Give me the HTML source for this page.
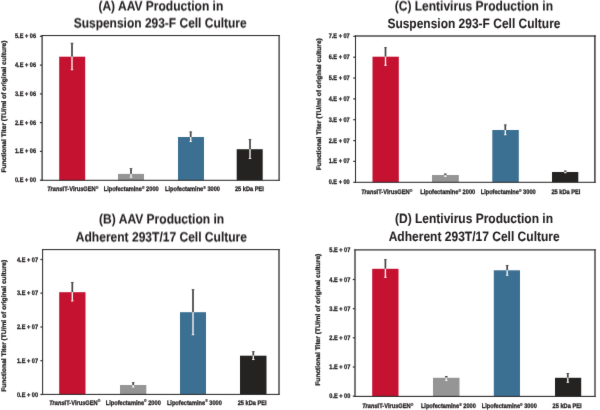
<!DOCTYPE html>
<html><head><meta charset="utf-8"><title>Functional Titer</title>
<style>
html,body{margin:0;padding:0;background:#fff;}
body{width:600px;height:410px;overflow:hidden;font-family:"Liberation Sans",sans-serif;}
svg{display:block;}
text{font-family:"Liberation Sans",sans-serif;font-weight:bold;fill:#231f20;text-rendering:geometricPrecision;}
.t{font-size:13.6px;stroke:#231f20;stroke-width:0.08px;}
.s{font-size:6.6px;stroke:#231f20;stroke-width:0.3px;}
</style></head><body>
<svg width="600" height="410" viewBox="0 0 600 410">
<defs><filter id="soft" x="0" y="0" width="600" height="410" filterUnits="userSpaceOnUse" color-interpolation-filters="sRGB"><feConvolveMatrix order="3" kernelMatrix="0.0049 0.0602 0.0049 0.0602 0.7396 0.0602 0.0049 0.0602 0.0049" edgeMode="duplicate" preserveAlpha="false"/></filter>
<filter id="softUp" x="0" y="0" width="600" height="410" filterUnits="userSpaceOnUse" color-interpolation-filters="sRGB"><feConvolveMatrix order="3" kernelMatrix="0.0343 0.4214 0.0343 0.0329 0.4042 0.0329 0.0028 0.0344 0.0028" edgeMode="duplicate" preserveAlpha="false"/></filter></defs>
<rect width="600" height="410" fill="#fff"/>
<g filter="url(#soft)">

<!-- panel A -->
<rect x="59.2" y="56.7" width="26.0" height="123.6" fill="#C41230"/>
<rect x="71.15" y="43.0" width="1.7" height="13.7" fill="#454545"/>
<rect x="71.30" y="56.7" width="1.4" height="13.3" fill="#f7f0f0"/>
<rect x="70.60" y="42.8" width="2.8" height="0.8" fill="#454545"/>
<rect x="70.70" y="69.3" width="2.6" height="0.9" fill="#f7f0f0"/>
<rect x="118" y="173.9" width="26.0" height="6.4" fill="#959595"/>
<rect x="130.15" y="168.5" width="1.7" height="5.4" fill="#454545"/>
<rect x="130.30" y="173.9" width="1.4" height="3.7" fill="#f7f0f0"/>
<rect x="129.60" y="168.3" width="2.8" height="0.8" fill="#454545"/>
<rect x="129.70" y="176.9" width="2.6" height="0.9" fill="#f7f0f0"/>
<rect x="178" y="137" width="26.0" height="43.3" fill="#3C7092"/>
<rect x="189.85" y="131.7" width="1.7" height="5.3" fill="#454545"/>
<rect x="190.00" y="137" width="1.4" height="4.7" fill="#f7f0f0"/>
<rect x="189.30" y="131.5" width="2.8" height="0.8" fill="#454545"/>
<rect x="189.40" y="141.0" width="2.6" height="0.9" fill="#f7f0f0"/>
<rect x="236.7" y="149.2" width="26.0" height="31.1" fill="#242322"/>
<rect x="249.15" y="139.2" width="1.7" height="10.0" fill="#454545"/>
<rect x="249.30" y="149.2" width="1.4" height="9.5" fill="#f7f0f0"/>
<rect x="248.60" y="139.0" width="2.8" height="0.8" fill="#454545"/>
<rect x="248.70" y="158.0" width="2.6" height="0.9" fill="#f7f0f0"/>
<rect x="41.48" y="35.02" width="238.25" height="1.05" fill="#2e2e2e"/>
<rect x="41.48" y="179.78" width="238.25" height="1.05" fill="#2e2e2e"/>
<rect x="41.48" y="35.02" width="1.25" height="145.80" fill="#2e2e2e"/>
<rect x="278.48" y="35.02" width="1.25" height="145.80" fill="#2e2e2e"/>
<rect x="39.9" y="35.7" width="2" height="1.2" fill="#2e2e2e"/>
<text class="s" x="36.0" y="38.3" text-anchor="end" textLength="21.0" lengthAdjust="spacingAndGlyphs">5.E + 06</text>
<rect x="39.9" y="64.5" width="2" height="1.2" fill="#2e2e2e"/>
<text class="s" x="36.0" y="67.1" text-anchor="end" textLength="21.0" lengthAdjust="spacingAndGlyphs">4.E + 06</text>
<rect x="39.9" y="93.3" width="2" height="1.2" fill="#2e2e2e"/>
<text class="s" x="36.0" y="95.9" text-anchor="end" textLength="21.0" lengthAdjust="spacingAndGlyphs">3.E + 06</text>
<rect x="39.9" y="122.0" width="2" height="1.2" fill="#2e2e2e"/>
<text class="s" x="36.0" y="124.6" text-anchor="end" textLength="21.0" lengthAdjust="spacingAndGlyphs">2.E + 06</text>
<rect x="39.9" y="150.8" width="2" height="1.2" fill="#2e2e2e"/>
<text class="s" x="36.0" y="153.4" text-anchor="end" textLength="21.0" lengthAdjust="spacingAndGlyphs">1.E + 06</text>
<rect x="39.9" y="179.6" width="2" height="1.2" fill="#2e2e2e"/>
<text class="s" x="36.0" y="182.2" text-anchor="end" textLength="21.0" lengthAdjust="spacingAndGlyphs">0.E + 00</text>
<text class="s" x="47.2" y="190.7" textLength="51.1" lengthAdjust="spacingAndGlyphs"><tspan font-style="italic">Trans</tspan>IT-VirusGEN<tspan font-size="4.1" dy="-2.2" stroke-width="0.12">®</tspan></text>
<text class="s" x="103.7" y="190.7" textLength="55.0" lengthAdjust="spacingAndGlyphs">Lipofectamine<tspan font-size="4.1" dy="-2.2" stroke-width="0.12">®</tspan><tspan dy="2.2"> 2000</tspan></text>
<text class="s" x="165.0" y="190.7" textLength="55.0" lengthAdjust="spacingAndGlyphs">Lipofectamine<tspan font-size="4.1" dy="-2.2" stroke-width="0.12">®</tspan><tspan dy="2.2"> 3000</tspan></text>
<text class="s" x="234.9" y="190.7" textLength="28.9" lengthAdjust="spacingAndGlyphs">25 kDa PEI</text>
<text class="s" transform="translate(5.9,172.6) rotate(-90)" textLength="132.0" lengthAdjust="spacingAndGlyphs" style="font-size:6.6px">Functional Titer (TU/ml of original culture)</text>
<!-- panel B -->
<rect x="59.2" y="292.2" width="26.3" height="102.2" fill="#C41230"/>
<rect x="71.45" y="282.2" width="1.7" height="10.0" fill="#454545"/>
<rect x="71.60" y="292.2" width="1.4" height="9.0" fill="#f7f0f0"/>
<rect x="70.90" y="282.0" width="2.8" height="0.8" fill="#454545"/>
<rect x="71.00" y="300.5" width="2.6" height="0.9" fill="#f7f0f0"/>
<rect x="120" y="385" width="26.3" height="9.4" fill="#959595"/>
<rect x="132.35" y="382.5" width="1.7" height="2.5" fill="#454545"/>
<rect x="132.50" y="385" width="1.4" height="2.3" fill="#f7f0f0"/>
<rect x="131.80" y="382.3" width="2.8" height="0.8" fill="#454545"/>
<rect x="131.90" y="386.6" width="2.6" height="0.9" fill="#f7f0f0"/>
<rect x="180" y="312.2" width="26.0" height="82.2" fill="#3C7092"/>
<rect x="192.15" y="289.5" width="1.7" height="22.7" fill="#454545"/>
<rect x="192.30" y="312.2" width="1.4" height="22.8" fill="#f7f0f0"/>
<rect x="191.60" y="289.3" width="2.8" height="0.8" fill="#454545"/>
<rect x="191.70" y="334.3" width="2.6" height="0.9" fill="#f7f0f0"/>
<rect x="240" y="355.7" width="26.5" height="38.7" fill="#242322"/>
<rect x="252.45" y="351.5" width="1.7" height="4.2" fill="#454545"/>
<rect x="252.60" y="355.7" width="1.4" height="4.1" fill="#f7f0f0"/>
<rect x="251.90" y="351.3" width="2.8" height="0.8" fill="#454545"/>
<rect x="252.00" y="359.1" width="2.6" height="0.9" fill="#f7f0f0"/>
<rect x="42.08" y="249.07" width="237.58" height="1.05" fill="#2e2e2e"/>
<rect x="42.08" y="393.88" width="237.58" height="1.05" fill="#2e2e2e"/>
<rect x="42.08" y="249.07" width="1.05" height="145.85" fill="#2e2e2e"/>
<rect x="278.35" y="249.07" width="1.3" height="145.85" fill="#2e2e2e"/>
<rect x="40.4" y="258.9" width="2" height="1.2" fill="#2e2e2e"/>
<text class="s" x="38.0" y="261.5" text-anchor="end" textLength="21.0" lengthAdjust="spacingAndGlyphs">4.E + 07</text>
<rect x="40.4" y="292.6" width="2" height="1.2" fill="#2e2e2e"/>
<text class="s" x="38.0" y="295.2" text-anchor="end" textLength="21.0" lengthAdjust="spacingAndGlyphs">3.E + 07</text>
<rect x="40.4" y="326.4" width="2" height="1.2" fill="#2e2e2e"/>
<text class="s" x="38.0" y="329.0" text-anchor="end" textLength="21.0" lengthAdjust="spacingAndGlyphs">2.E + 07</text>
<rect x="40.4" y="360.1" width="2" height="1.2" fill="#2e2e2e"/>
<text class="s" x="38.0" y="362.8" text-anchor="end" textLength="21.0" lengthAdjust="spacingAndGlyphs">1.E + 07</text>
<rect x="40.4" y="393.9" width="2" height="1.2" fill="#2e2e2e"/>
<text class="s" x="38.0" y="396.5" text-anchor="end" textLength="21.0" lengthAdjust="spacingAndGlyphs">0.E + 00</text>
<text class="s" x="49.2" y="404.5" textLength="51.1" lengthAdjust="spacingAndGlyphs"><tspan font-style="italic">Trans</tspan>IT-VirusGEN<tspan font-size="4.1" dy="-2.2" stroke-width="0.12">®</tspan></text>
<text class="s" x="105.8" y="404.5" textLength="55.0" lengthAdjust="spacingAndGlyphs">Lipofectamine<tspan font-size="4.1" dy="-2.2" stroke-width="0.12">®</tspan><tspan dy="2.2"> 2000</tspan></text>
<text class="s" x="166.9" y="404.5" textLength="55.0" lengthAdjust="spacingAndGlyphs">Lipofectamine<tspan font-size="4.1" dy="-2.2" stroke-width="0.12">®</tspan><tspan dy="2.2"> 3000</tspan></text>
<text class="s" x="237.7" y="404.5" textLength="28.9" lengthAdjust="spacingAndGlyphs">25 kDa PEI</text>
<text class="s" transform="translate(6.0,391.8) rotate(-90)" textLength="132.0" lengthAdjust="spacingAndGlyphs" style="font-size:6.6px">Functional Titer (TU/ml of original culture)</text>
<!-- panel C -->
<text class="t" x="387.4" y="28.0" textLength="173.1" lengthAdjust="spacingAndGlyphs">Suspension 293-F Cell Culture</text>
<rect x="372.5" y="56.7" width="26.3" height="125.6" fill="#C41230"/>
<rect x="384.65" y="47.5" width="1.7" height="9.2" fill="#454545"/>
<rect x="384.80" y="56.7" width="1.4" height="8.8" fill="#f7f0f0"/>
<rect x="384.10" y="47.3" width="2.8" height="0.8" fill="#454545"/>
<rect x="384.20" y="64.8" width="2.6" height="0.9" fill="#f7f0f0"/>
<rect x="432" y="175" width="26.8" height="7.3" fill="#959595"/>
<rect x="444.45" y="173.8" width="1.7" height="1.2" fill="#454545"/>
<rect x="444.60" y="175" width="1.4" height="1.7" fill="#f7f0f0"/>
<rect x="443.90" y="173.6" width="2.8" height="0.8" fill="#454545"/>
<rect x="444.00" y="176.0" width="2.6" height="0.9" fill="#f7f0f0"/>
<rect x="492.3" y="130" width="26.5" height="52.3" fill="#3C7092"/>
<rect x="504.45" y="124.7" width="1.7" height="5.3" fill="#454545"/>
<rect x="504.60" y="130" width="1.4" height="5.0" fill="#f7f0f0"/>
<rect x="503.90" y="124.5" width="2.8" height="0.8" fill="#454545"/>
<rect x="504.00" y="134.3" width="2.6" height="0.9" fill="#f7f0f0"/>
<rect x="552" y="172" width="26.3" height="10.3" fill="#242322"/>
<rect x="564.45" y="170.8" width="1.7" height="1.2" fill="#454545"/>
<rect x="564.60" y="172" width="1.4" height="1.0" fill="#f7f0f0"/>
<rect x="563.90" y="170.6" width="2.8" height="0.8" fill="#454545"/>
<rect x="564.00" y="172.3" width="2.6" height="0.9" fill="#f7f0f0"/>
<rect x="354.98" y="35.35" width="240.62" height="1.3" fill="#2e2e2e"/>
<rect x="354.98" y="181.78" width="240.62" height="1.05" fill="#2e2e2e"/>
<rect x="354.98" y="35.35" width="1.05" height="147.48" fill="#2e2e2e"/>
<rect x="594.20" y="35.35" width="1.4" height="147.48" fill="#2e2e2e"/>
<rect x="353.3" y="35.7" width="2" height="1.2" fill="#2e2e2e"/>
<text class="s" x="349.7" y="38.3" text-anchor="end" textLength="21.0" lengthAdjust="spacingAndGlyphs">7.E + 07</text>
<rect x="353.3" y="56.6" width="2" height="1.2" fill="#2e2e2e"/>
<text class="s" x="349.7" y="59.2" text-anchor="end" textLength="21.0" lengthAdjust="spacingAndGlyphs">6.E + 07</text>
<rect x="353.3" y="77.4" width="2" height="1.2" fill="#2e2e2e"/>
<text class="s" x="349.7" y="80.0" text-anchor="end" textLength="21.0" lengthAdjust="spacingAndGlyphs">5.E + 07</text>
<rect x="353.3" y="98.3" width="2" height="1.2" fill="#2e2e2e"/>
<text class="s" x="349.7" y="100.9" text-anchor="end" textLength="21.0" lengthAdjust="spacingAndGlyphs">4.E + 07</text>
<rect x="353.3" y="119.1" width="2" height="1.2" fill="#2e2e2e"/>
<text class="s" x="349.7" y="121.7" text-anchor="end" textLength="21.0" lengthAdjust="spacingAndGlyphs">3.E + 07</text>
<rect x="353.3" y="140.0" width="2" height="1.2" fill="#2e2e2e"/>
<text class="s" x="349.7" y="142.6" text-anchor="end" textLength="21.0" lengthAdjust="spacingAndGlyphs">2.E + 07</text>
<rect x="353.3" y="160.8" width="2" height="1.2" fill="#2e2e2e"/>
<text class="s" x="349.7" y="163.4" text-anchor="end" textLength="21.0" lengthAdjust="spacingAndGlyphs">1.E + 07</text>
<rect x="353.3" y="181.7" width="2" height="1.2" fill="#2e2e2e"/>
<text class="s" x="349.7" y="184.3" text-anchor="end" textLength="21.0" lengthAdjust="spacingAndGlyphs">0.E + 00</text>
<text class="s" x="361.2" y="194.0" textLength="51.1" lengthAdjust="spacingAndGlyphs"><tspan font-style="italic">Trans</tspan>IT-VirusGEN<tspan font-size="4.1" dy="-2.2" stroke-width="0.12">®</tspan></text>
<text class="s" x="420.2" y="194.0" textLength="55.0" lengthAdjust="spacingAndGlyphs">Lipofectamine<tspan font-size="4.1" dy="-2.2" stroke-width="0.12">®</tspan><tspan dy="2.2"> 2000</tspan></text>
<text class="s" x="480.7" y="194.0" textLength="55.0" lengthAdjust="spacingAndGlyphs">Lipofectamine<tspan font-size="4.1" dy="-2.2" stroke-width="0.12">®</tspan><tspan dy="2.2"> 3000</tspan></text>
<text class="s" x="551.4" y="194.0" textLength="28.9" lengthAdjust="spacingAndGlyphs">25 kDa PEI</text>
<text class="s" transform="translate(320.7,170.2) rotate(-90)" textLength="132.0" lengthAdjust="spacingAndGlyphs" style="font-size:6.6px">Functional Titer (TU/ml of original culture)</text>
<!-- panel D -->
<text class="t" x="395.0" y="223.0" textLength="158.0" lengthAdjust="spacingAndGlyphs">(D) Lentivirus Production in</text>
<text class="t" x="388.7" y="241.0" textLength="171.0" lengthAdjust="spacingAndGlyphs">Adherent 293T/17 Cell Culture</text>
<rect x="372.2" y="268.8" width="26.3" height="127.6" fill="#C41230"/>
<rect x="384.55" y="259.5" width="1.7" height="9.3" fill="#454545"/>
<rect x="384.70" y="268.8" width="1.4" height="8.7" fill="#f7f0f0"/>
<rect x="384.00" y="259.3" width="2.8" height="0.8" fill="#454545"/>
<rect x="384.10" y="276.8" width="2.6" height="0.9" fill="#f7f0f0"/>
<rect x="433" y="377.8" width="26.5" height="18.6" fill="#959595"/>
<rect x="445.45" y="376.2" width="1.7" height="1.6" fill="#454545"/>
<rect x="445.60" y="377.8" width="1.4" height="2.9" fill="#f7f0f0"/>
<rect x="444.90" y="376.0" width="2.8" height="0.8" fill="#454545"/>
<rect x="445.00" y="380.0" width="2.6" height="0.9" fill="#f7f0f0"/>
<rect x="493.8" y="270.3" width="26.2" height="126.1" fill="#3C7092"/>
<rect x="506.35" y="265.3" width="1.7" height="5.0" fill="#454545"/>
<rect x="506.50" y="270.3" width="1.4" height="5.2" fill="#f7f0f0"/>
<rect x="505.80" y="265.1" width="2.8" height="0.8" fill="#454545"/>
<rect x="505.90" y="274.8" width="2.6" height="0.9" fill="#f7f0f0"/>
<rect x="555" y="377.8" width="26.2" height="18.6" fill="#242322"/>
<rect x="566.95" y="373.3" width="1.7" height="4.5" fill="#454545"/>
<rect x="567.10" y="377.8" width="1.4" height="4.7" fill="#f7f0f0"/>
<rect x="566.40" y="373.1" width="2.8" height="0.8" fill="#454545"/>
<rect x="566.50" y="381.8" width="2.6" height="0.9" fill="#f7f0f0"/>
<rect x="354.35" y="249.30" width="241.30" height="1.2" fill="#2e2e2e"/>
<rect x="354.35" y="395.85" width="241.30" height="1.1" fill="#2e2e2e"/>
<rect x="354.35" y="249.30" width="1.3" height="147.65" fill="#2e2e2e"/>
<rect x="594.35" y="249.30" width="1.3" height="147.65" fill="#2e2e2e"/>
<text class="s" x="350.3" y="252.3" text-anchor="end" textLength="21.0" lengthAdjust="spacingAndGlyphs">5.E + 07</text>
<rect x="352.8" y="278.9" width="2" height="1.2" fill="#2e2e2e"/>
<text class="s" x="350.3" y="281.5" text-anchor="end" textLength="21.0" lengthAdjust="spacingAndGlyphs">4.E + 07</text>
<rect x="352.8" y="308.1" width="2" height="1.2" fill="#2e2e2e"/>
<text class="s" x="350.3" y="310.7" text-anchor="end" textLength="21.0" lengthAdjust="spacingAndGlyphs">3.E + 07</text>
<rect x="352.8" y="337.2" width="2" height="1.2" fill="#2e2e2e"/>
<text class="s" x="350.3" y="339.8" text-anchor="end" textLength="21.0" lengthAdjust="spacingAndGlyphs">2.E + 07</text>
<rect x="352.8" y="366.4" width="2" height="1.2" fill="#2e2e2e"/>
<text class="s" x="350.3" y="369.0" text-anchor="end" textLength="21.0" lengthAdjust="spacingAndGlyphs">1.E + 07</text>
<rect x="352.8" y="395.6" width="2" height="1.2" fill="#2e2e2e"/>
<text class="s" x="350.3" y="398.2" text-anchor="end" textLength="21.0" lengthAdjust="spacingAndGlyphs">0.E + 00</text>
<text class="s" x="362.2" y="407.8" textLength="51.1" lengthAdjust="spacingAndGlyphs"><tspan font-style="italic">Trans</tspan>IT-VirusGEN<tspan font-size="4.1" dy="-2.2" stroke-width="0.12">®</tspan></text>
<text class="s" x="420.9" y="407.8" textLength="55.0" lengthAdjust="spacingAndGlyphs">Lipofectamine<tspan font-size="4.1" dy="-2.2" stroke-width="0.12">®</tspan><tspan dy="2.2"> 2000</tspan></text>
<text class="s" x="481.8" y="407.8" textLength="55.0" lengthAdjust="spacingAndGlyphs">Lipofectamine<tspan font-size="4.1" dy="-2.2" stroke-width="0.12">®</tspan><tspan dy="2.2"> 3000</tspan></text>
<text class="s" x="552.6" y="407.8" textLength="28.9" lengthAdjust="spacingAndGlyphs">25 kDa PEI</text>
<text class="s" transform="translate(320.4,385.7) rotate(-90)" textLength="132.0" lengthAdjust="spacingAndGlyphs" style="font-size:6.6px">Functional Titer (TU/ml of original culture)</text>
</g>
<g filter="url(#softUp)">
<text class="t" x="98.4" y="11.0" textLength="124.9" lengthAdjust="spacingAndGlyphs">(A) AAV Production in</text>
<text class="t" x="73.7" y="28.0" textLength="173.0" lengthAdjust="spacingAndGlyphs">Suspension 293-F Cell Culture</text>
<text class="t" x="99.1" y="224.0" textLength="125.1" lengthAdjust="spacingAndGlyphs">(B) AAV Production in</text>
<text class="t" x="75.8" y="242.0" textLength="171.2" lengthAdjust="spacingAndGlyphs">Adherent 293T/17 Cell Culture</text>
<text class="t" x="394.7" y="11.0" textLength="158.3" lengthAdjust="spacingAndGlyphs">(C) Lentivirus Production in</text>
</g></svg></body></html>
